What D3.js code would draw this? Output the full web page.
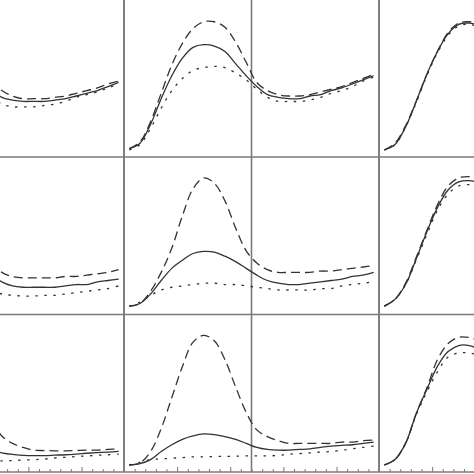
<!DOCTYPE html>
<html>
<head>
<meta charset="utf-8">
<script src="https://cdn.jsdelivr.net/npm/d3@7/dist/d3.min.js"></script>
<style>
  html, body { margin: 0; padding: 0; background: #fff; }
  svg { display: block; }
</style>
</head>
<body>
<svg id="chart" width="474" height="474"></svg>
<script>
// Sample hours along each panel's x axis (0..24)
const hoursFull = [0.5, 1.5, 2.5, 3.5, 4.5, 5.5, 6.5, 7.5, 8.5, 9.5, 10.5, 11.5,
  12.5, 13.5, 14.5, 15.5, 16.5, 17.5, 18.5, 19.5, 20.5, 21.5, 22.5, 23.5];
const hoursLate = [11.5, 12.5, 13.5, 14.5, 15.5, 16.5, 17.5, 18.5, 19.5, 20.5, 21.5, 22.5, 23.5];
const hoursEarly = [0.5, 1.5, 2.5, 3.5, 4.5, 5.5, 6.5, 7.5, 8.5, 9.5];

// Minor / major tick hours on the bottom axis
const minorTicks = [1, 2, 3, 4, 6, 7, 8, 9, 11, 12, 13, 14, 16, 17, 18, 19, 21, 22, 23];
const majorTicks = [5, 10, 15, 20];

// Row 1
const r1LeftSolid = [46, 39, 37, 36, 36, 36, 37, 38, 40, 42, 44, 47, 50];
const r1LeftDashed = [52, 44, 40, 38, 38, 38, 39, 40, 42, 44, 46, 49, 51];
const r1LeftDotted = [40, 34, 32, 32, 32, 33, 34, 36, 39, 41, 43, 46, 49];

const r1MidSolid = [1, 5, 19, 38, 55, 68, 76, 78, 77, 73, 64, 55, 47, 41, 39, 38, 38, 40, 41, 44, 46, 49, 52, 55];
const r1MidDashed = [1, 6, 21, 42, 63, 79, 90, 95, 95, 91, 80, 65, 50, 44, 41, 40, 40, 41, 43, 45, 47, 50, 53, 56];
const r1MidDotted = [0, 4, 16, 31, 44, 53, 59, 61, 62, 61, 57, 52, 45, 39, 36, 36, 36, 37, 39, 42, 44, 47, 51, 54];

const r1RightSolid = [0, 4, 17, 36, 56, 73, 86, 93, 94, 92];
const r1RightDashed = [0, 5, 18, 36, 56, 73, 87, 94, 95, 93];
const r1RightDotted = [0, 4, 17, 35, 55, 72, 85, 92, 93, 91];

// Row 2
const r2LeftSolid = [25, 19, 16, 15, 15, 15, 15, 16, 17, 17, 19, 20, 21];
const r2LeftDashed = [34, 26, 23, 22, 22, 22, 22, 23, 23, 24, 25, 26, 28];
const r2LeftDotted = [13, 10, 9, 8.5, 8.5, 9, 9, 10, 11, 12, 13, 14, 16];

const r2MidSolid = [1, 3, 10, 20, 29, 35, 40, 41.5, 41, 38, 34, 29, 24, 20, 18, 17, 17, 18, 19, 20, 21, 23, 24, 26];
const r2MidDashed = [1, 3, 12, 26, 44, 68, 88, 96, 92, 79, 59, 42, 33, 28, 26, 26, 26, 26, 27, 27, 28, 29, 30, 31];
const r2MidDotted = [1, 4, 9, 13, 15, 16, 17, 18, 18, 17, 17, 16, 15, 14, 13, 13, 13, 13, 14, 14, 16, 17, 18, 19];

const r2RightSolid = [1, 6, 17, 36, 56, 74, 87, 93, 94, 92];
const r2RightDashed = [1, 6, 18, 37, 57, 76, 90, 96, 97, 96];
const r2RightDotted = [1, 6, 17, 35, 54, 72, 84, 90, 91, 89];

// Row 3
const r3LeftSolid = [11, 9, 7.8, 7.2, 6.9, 7, 7.3, 7.6, 8.1, 8.7, 9.2, 9.6, 10.1];
const r3LeftDashed = [33, 21.5, 16, 13, 11, 10.7, 10.5, 10.5, 10.7, 11, 11, 11.5, 12];
const r3LeftDotted = [3, 3.1, 3.3, 3.7, 3.9, 4.4, 5.2, 5.7, 6.3, 6.7, 7.2, 7.6, 8.1];

const r3MidSolid = [0, 1, 4, 10, 15, 19, 21.5, 23, 22.5, 21, 19, 16, 13, 11.5, 11, 11, 11.5, 12, 13, 14, 14.5, 15, 16, 17];
const r3MidDashed = [0, 1.5, 10, 27, 50, 73, 91, 96, 92, 78, 58, 39, 26, 21, 18, 16, 16, 16, 16, 16, 17, 17, 18, 18.5];
const r3MidDotted = [0, 2, 4, 4.5, 5, 5.5, 6, 6, 6.3, 6.4, 6.5, 6.7, 6.7, 6.8, 7, 8, 8.4, 9, 9.6, 10, 11, 12, 13, 14];

const r3RightSolid = [0, 4, 16, 38, 56, 73, 84, 88.5, 88.5, 85.5];
const r3RightDashed = [0, 4, 16, 38, 57, 78, 90, 94.6, 94.4, 92];
const r3RightDotted = [0, 4, 16, 37, 54, 69, 80, 83, 83, 81];

const panels = [
  { row: 0, col: 0, hours: hoursLate, solid: r1LeftSolid, dashed: r1LeftDashed, dotted: r1LeftDotted },
  { row: 0, col: 1, hours: hoursFull, solid: r1MidSolid, dashed: r1MidDashed, dotted: r1MidDotted },
  { row: 0, col: 2, hours: hoursEarly, solid: r1RightSolid, dashed: r1RightDashed, dotted: r1RightDotted },
  { row: 1, col: 0, hours: hoursLate, solid: r2LeftSolid, dashed: r2LeftDashed, dotted: r2LeftDotted },
  { row: 1, col: 1, hours: hoursFull, solid: r2MidSolid, dashed: r2MidDashed, dotted: r2MidDotted },
  { row: 1, col: 2, hours: hoursEarly, solid: r2RightSolid, dashed: r2RightDashed, dotted: r2RightDotted },
  { row: 2, col: 0, hours: hoursLate, solid: r3LeftSolid, dashed: r3LeftDashed, dotted: r3LeftDotted },
  { row: 2, col: 1, hours: hoursFull, solid: r3MidSolid, dashed: r3MidDashed, dotted: r3MidDotted },
  { row: 2, col: 2, hours: hoursEarly, solid: r3RightSolid, dashed: r3RightDashed, dotted: r3RightDotted }
];

const lineStyles = {
  solid: null,
  dashed: '9,5',
  dotted: '2.5,6.5'
};

const panelW = 255;
const rowH = 157.5;
const originX = -131;
const originY = -0.5;
const frameColor = '#7a7a7a';
const curveColor = '#333';

const svg = d3.select('#chart');

svg.append('rect')
  .attr('width', '100%')
  .attr('height', '100%')
  .attr('fill', '#fff');

const frames = svg.append('g').attr('class', 'frames');
const curves = svg.append('g').attr('class', 'curves');

panels.forEach(p => {
  const left = originX + p.col * panelW;
  const top = originY + p.row * rowH;

  const x = d3.scaleLinear().domain([0, 24]).range([left, left + panelW]);
  const y = d3.scaleLinear().domain([0, 100]).range([top + 150.5, top + 15.5]);

  // panel edges (left, midday divider, right) and the bottom edge
  [0, 12, 24].forEach(h => {
    frames.append('line')
      .attr('x1', x(h)).attr('x2', x(h))
      .attr('y1', top).attr('y2', top + rowH)
      .attr('stroke', frameColor)
      .attr('stroke-width', 1.6);
  });

  frames.append('line')
    .attr('x1', x(0)).attr('x2', x(24))
    .attr('y1', top + rowH).attr('y2', top + rowH)
    .attr('stroke', frameColor)
    .attr('stroke-width', 1.6);

  const line = d3.line()
    .x((d, i) => x(p.hours[i]))
    .y(d => y(d))
    .curve(d3.curveCatmullRom);

  ['dotted', 'dashed', 'solid'].forEach(key => {
    curves.append('path')
      .attr('d', line(p[key]))
      .attr('fill', 'none')
      .attr('stroke', curveColor)
      .attr('stroke-width', 1.3)
      .attr('stroke-dasharray', lineStyles[key]);
  });

  // ticks only along the bottom row
  if (p.row === 2) {
    const axisY = top + rowH;
    const minor = frames.append('g')
      .attr('transform', `translate(0, ${axisY})`)
      .call(d3.axisTop(x).tickValues(minorTicks).tickSize(3).tickFormat(''));
    const major = frames.append('g')
      .attr('transform', `translate(0, ${axisY})`)
      .call(d3.axisTop(x).tickValues(majorTicks).tickSize(5).tickFormat(''));
    [minor, major].forEach(g => {
      g.select('.domain').remove();
      g.selectAll('line').attr('stroke', frameColor).attr('stroke-width', 1);
    });
  }
});
</script>
</body>
</html>
